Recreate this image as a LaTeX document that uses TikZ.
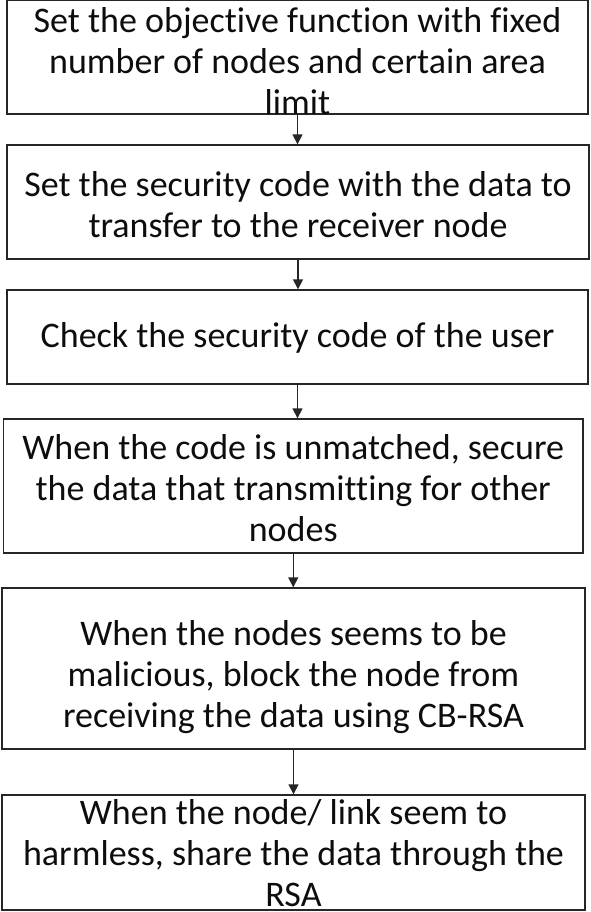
\documentclass[tikz,border=0pt]{standalone}
\usepackage{fontspec}
\setmainfont{Carlito}[Ligatures=NoCommon]
\usetikzlibrary{arrows.meta}
\begin{document}
\begin{tikzpicture}[x=1pt,y=1pt,
  stepbox/.style={draw=black!85, line width=1.4pt, rectangle, inner sep=0pt},
  steptext/.style={inner sep=0pt, align=center, text=black!95,
    font=\fontsize{36}{41}\selectfont},
  arr/.style={draw=black!85, line width=1.5pt, -{Triangle[length=10pt,width=10pt]}}]
\useasboundingbox (0,0) rectangle (590,-912);
\node[stepbox, minimum width=581pt, minimum height=114pt] (b1) at (297.5,-57) {};
\node[stepbox, minimum width=582pt, minimum height=114pt] (b2) at (298,-202) {};
\node[stepbox, minimum width=581pt, minimum height=94pt] (b3) at (297.5,-337) {};
\node[stepbox, minimum width=579.5pt, minimum height=134pt] (b4) at (293.25,-486) {};
\node[stepbox, minimum width=583pt, minimum height=161pt] (b5) at (293.5,-668.5) {};
\node[stepbox, minimum width=583pt, minimum height=115pt] (b6) at (293.5,-852.5) {};
\node[steptext] (t1) at (297.5,-61) {Set the objective function with fixed\\number of nodes and certain area\\limit};
\node[steptext] (t2) at (298,-204.5) {Set the security code with the data to\\transfer to the receiver node};
\node[steptext] (t3) at (297.5,-338) {Check the security code of the user};
\node[steptext] (t4) at (293.25,-488) {When the code is unmatched, secure\\the data that transmitting for other\\nodes};
\node[steptext] (t5) at (293.5,-677) {When the nodes seems to be\\malicious, block the node from\\receiving the data using CB-RSA};
\node[steptext] (t6) at (293.5,-853) {When the node/ link seem to\\harmless, share the data through the\\RSA};
\draw[arr] (b1.south) -- (b1.south |- b2.north);
\draw[arr] (b2.south) -- (b2.south |- b3.north);
\draw[arr] (b3.south) -- (b3.south |- b4.north);
\draw[arr] (b4.south) -- (b4.south |- b5.north);
\draw[arr] (b5.south) -- (b5.south |- b6.north);
\end{tikzpicture}
\end{document}
